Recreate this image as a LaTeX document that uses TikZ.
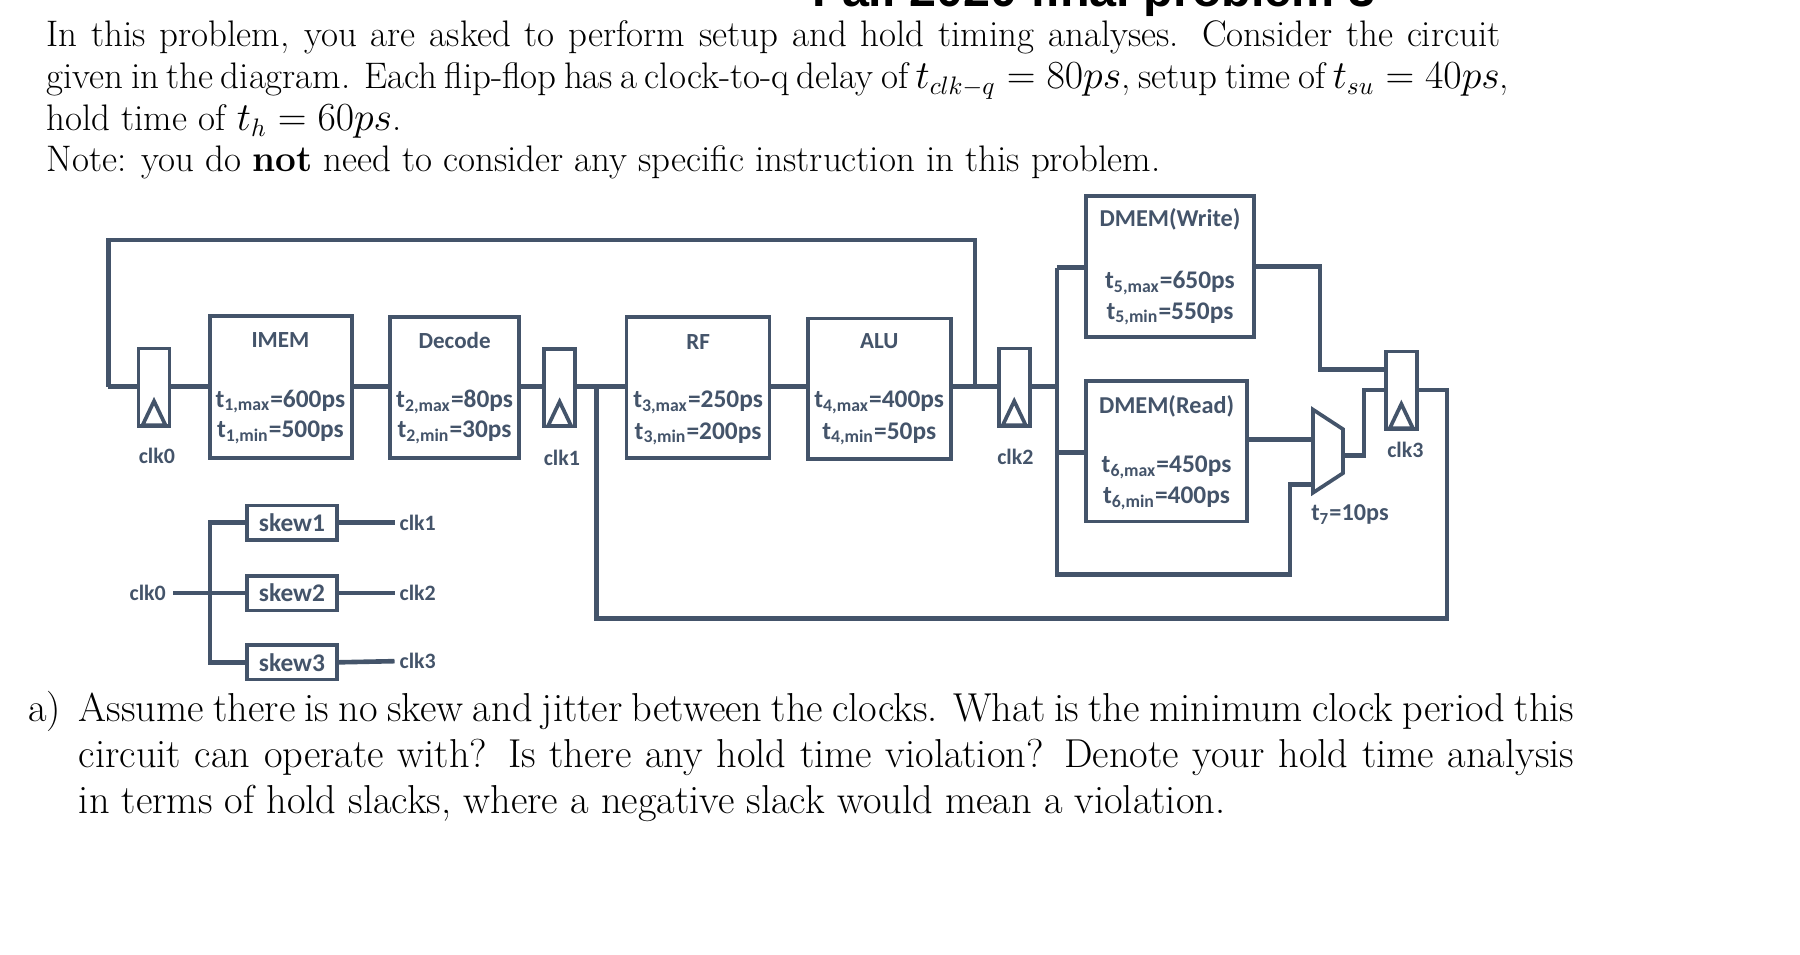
\documentclass[tikz,border=0pt]{standalone}
\usepackage{fontspec}
\newfontfamily\lab{Carlito}
\newfontfamily\ttl{Liberation Sans}
\definecolor{sl}{HTML}{44546A}
\begin{document}
\begin{tikzpicture}[x=0.5pt,y=-0.5pt,
  wire/.style={draw=sl,line width=2pt},
  blk/.style={draw=sl,line width=1.6pt,fill=white,inner sep=0pt},
  ff/.style={blk,minimum width=13.5pt,minimum height=33.5pt},
  lb/.style={text=sl,font=\lab\bfseries\fontsize{11}{12}\selectfont,inner sep=0pt},
  ck/.style={text=sl,font=\lab\bfseries\fontsize{9.5}{11}\selectfont,inner sep=0pt},
  tx/.style={anchor=base west,inner sep=0pt,font=\fontsize{16}{18}\selectfont},
  tq/.style={anchor=base west,inner sep=0pt,font=\fontsize{17.5}{20}\selectfont}]
\useasboundingbox (0,0) rectangle (1560,827);
% title (clipped)
\node[anchor=base,inner sep=0pt,font=\ttl\bfseries\fontsize{21}{21}\selectfont,text=black] (title) at (948,6) {Fall 2020 final problem 3};
% text
\node[tx] (l1) at (40,40) {\makebox[630pt][s]{In this problem, you are asked to perform setup and hold timing analyses. Consider the circuit}};
\node[tx] (l2) at (40,77) {\makebox[630pt][s]{given in the diagram. Each flip-flop has a clock-to-q delay of $t_{clk-q}=80ps$, setup time of $t_{su}=40ps$,}};
\node[tx] (l3) at (40,113) {hold time of $t_h=60ps$.};
\node[tx] (l4) at (40,149) {Note: you do \textbf{not} need to consider any specific instruction in this problem.};
\node[tq] (qa) at (24,625) {a)};
\node[tq] (q1) at (68,625) {\makebox[648pt][s]{Assume there is no skew and jitter between the clocks. What is the minimum clock period this}};
\node[tq] (q2) at (68,665) {\makebox[648pt][s]{circuit can operate with? Is there any hold time violation? Denote your hold time analysis}};
\node[tq] (q3) at (68,705) {in terms of hold slacks, where a negative slack would mean a violation.};
% wires
\coordinate (lpA) at (94,335); \coordinate (lpB) at (94,208); \coordinate (lpC) at (845,208); \coordinate (lpD) at (845,335);
\draw[wire] (lpA) -- (lpB) -- (lpC) -- (lpD);
\draw[wire] (94,335) -- (916,335);
\coordinate (fb1) at (517,335); \coordinate (fb2) at (517,536); \coordinate (fb3) at (1254,536); \coordinate (fb4) at (1254,338);
\draw[wire] (fb1) -- (fb2) -- (fb3) -- (fb4) -- (1228,338);
\draw[wire] (916,232) -- (916,498) -- (1118,498) -- (1118,420) -- (1140,420);
\draw[wire] (916,232) -- (941,232);
\draw[wire] (916,392) -- (941,392);
\draw[wire] (1087,231) -- (1144,231) -- (1144,320) -- (1201,320);
\draw[wire] (1081,381) -- (1140,381);
\draw[wire] (1164,395) -- (1182,395) -- (1182,338) -- (1201,338);
% mux
\draw[blk] (1138,355) -- (1164,372) -- (1164,410) -- (1138,427) -- cycle;
\node[ck,font=\lab\bfseries\fontsize{10.5}{12}\selectfont] (t7) at (1170,446) {t\textsubscript{7}=10ps};
% blocks
\node[blk,minimum width=61.5pt,minimum height=61.5pt] (imem) at (243.5,335.5) {};
\node[blk,minimum width=56pt,minimum height=61pt] (dec) at (394,336) {};
\node[blk,minimum width=62pt,minimum height=61pt] (rf) at (605,336) {};
\node[blk,minimum width=62pt,minimum height=61pt] (alu) at (762,337) {};
\node[blk,minimum width=73pt,minimum height=61pt] (dw) at (1014,231) {};
\node[blk,minimum width=70pt,minimum height=61pt] (dr) at (1011,391) {};
\node[lb,font=\lab\bfseries\fontsize{10}{12}\selectfont] at (243,295) {IMEM};
\node[lb,font=\lab\bfseries\fontsize{10}{12}\selectfont] at (394,295) {Decode};
\node[lb,font=\lab\bfseries\fontsize{10}{12}\selectfont] at (605,296) {RF};
\node[lb,font=\lab\bfseries\fontsize{10}{12}\selectfont] at (762,296) {ALU};
\node[lb,font=\lab\bfseries\fontsize{10.5}{12}\selectfont] at (1014,190) {DMEM(Write)};
\node[lb,font=\lab\bfseries\fontsize{10.5}{12}\selectfont] at (1011,352) {DMEM(Read)};
\node[lb] at (243,348) {t\textsubscript{1,max}=600ps};
\node[lb] at (243,375) {t\textsubscript{1,min}=500ps};
\node[lb] at (394,348) {t\textsubscript{2,max}=80ps};
\node[lb] at (394,375) {t\textsubscript{2,min}=30ps};
\node[lb] at (605,349) {t\textsubscript{3,max}=250ps};
\node[lb] at (605,376) {t\textsubscript{3,min}=200ps};
\node[lb] at (762,349) {t\textsubscript{4,max}=400ps};
\node[lb] at (762,376) {t\textsubscript{4,min}=50ps};
\node[lb] at (1014,245) {t\textsubscript{5,max}=650ps};
\node[lb] at (1014,272) {t\textsubscript{5,min}=550ps};
\node[lb] at (1011,405) {t\textsubscript{6,max}=450ps};
\node[lb] at (1011,432) {t\textsubscript{6,min}=400ps};
% flip-flops
\foreach \n/\x/\y in {f0/133.5/335.5, f1/485/336, f2/879/335.5, f3/1214.5/338}{
  \node[ff] (\n) at (\x,\y) {};
  \draw[blk] ([xshift=-5pt,yshift=1pt]\n.south) -- ([yshift=11.5pt]\n.south) -- ([xshift=5pt,yshift=1pt]\n.south) -- cycle;
}
\node[ck] at (136,395) {clk0};
\node[ck] at (487,397) {clk1};
\node[ck] at (880,396) {clk2};
\node[ck] at (1218,390) {clk3};
% clock tree
\node[ck] (c0) at (128,514) {clk0};
\node[blk,minimum width=39pt,minimum height=15pt] (s1) at (253,453) {};
\node[blk,minimum width=39pt,minimum height=15pt] (s2) at (253,514) {};
\node[blk,minimum width=39pt,minimum height=15pt] (s3) at (253,574) {};
\node[lb] at (s1) {skew1};
\node[lb] at (s2) {skew2};
\node[lb] at (s3) {skew3};
\node[ck] (c1) at (362,453) {clk1};
\node[ck] (c2) at (362,514) {clk2};
\node[ck] (c3) at (362,573) {clk3};
\draw[wire] (c0.east) ++(3pt,0) -- (s2.west);
\draw[wire] (s1.west) -- (182,453) -- (182,574) -- (s3.west);
\draw[wire] (s1.east) -- ([xshift=-2pt]c1.west);
\draw[wire] (s2.east) -- ([xshift=-2pt]c2.west);
\draw[wire] (s3.east) -- ([xshift=-2pt]c3.west);
\end{tikzpicture}
\end{document}
